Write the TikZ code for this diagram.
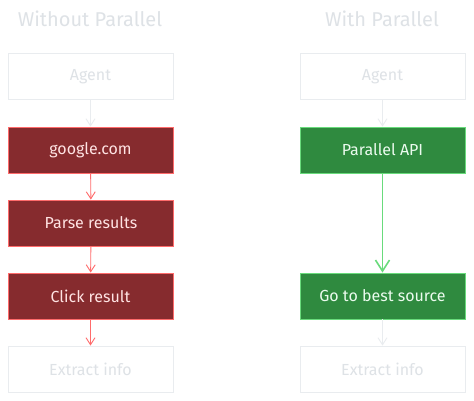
\documentclass[tikz,border=0pt]{standalone}
\usepackage{fontspec}
\setmainfont{Fira Sans}
\usetikzlibrary{arrows.meta}
\definecolor{redfill}{HTML}{862B2E}
\definecolor{redline}{HTML}{FF6B6B}
\definecolor{redtext}{HTML}{FFE3E3}
\definecolor{greenfill}{HTML}{2F8A3F}
\definecolor{greenline}{HTML}{69DB7C}
\definecolor{greentext}{HTML}{EBFBEE}
\definecolor{faint}{HTML}{E9ECEF}
\definecolor{fainttext}{HTML}{DEE2E6}
\tikzset{
  x=1pt, y=-1pt,
  box/.style={minimum width=165pt, minimum height=46pt, inner sep=0pt, font=\fontsize{16}{19}\selectfont, line width=0.9pt},
  faintbox/.style={box, draw=faint, text=fainttext},
  redbox/.style={box, draw=redline, fill=redfill, text=redtext},
  greenbox/.style={box, draw=greenline, fill=greenfill, text=greentext},
  title/.style={font=\fontsize{20}{24}\selectfont, text=fainttext},
  faintarrow/.style={draw=faint, line width=0.9pt, -{Straight Barb[length=7pt,width=9pt]}},
  redarrow/.style={draw=redline, line width=0.9pt, -{Straight Barb[length=7pt,width=9pt]}},
  greenarrow/.style={draw=greenline, line width=1.6pt, -{Straight Barb[length=11pt,width=14pt]}},
}
\begin{document}
\begin{tikzpicture}
\useasboundingbox[fill=white] (0,0) rectangle (474,401);
\node[title] (t1) at (90,19) {Without Parallel};
\node[title] (t2) at (382,19) {With Parallel};

\node[faintbox] (a1) at (90.5,76.5) {Agent};
\node[redbox] (g) at (90.5,150) {google.com};
\node[redbox] (p) at (91,223) {Parse results};
\node[redbox] (c) at (90.5,296) {Click result};
\node[faintbox] (e1) at (90.5,369) {Extract info};

\node[faintbox] (a2) at (382.5,76.5) {Agent};
\node[greenbox] (api) at (382.5,150) {Parallel API};
\node[greenbox] (go) at (382.5,296) {Go to best source};
\node[faintbox] (e2) at (382.5,369) {Extract info};

\draw[faintarrow] (a1) -- (g);
\draw[redarrow] (g) -- (p);
\draw[redarrow] (p) -- (c);
\draw[redarrow] (c) -- (e1);
\draw[faintarrow] (a2) -- (api);
\draw[greenarrow] (api) -- (go);
\draw[faintarrow] (go) -- (e2);
\end{tikzpicture}
\end{document}
